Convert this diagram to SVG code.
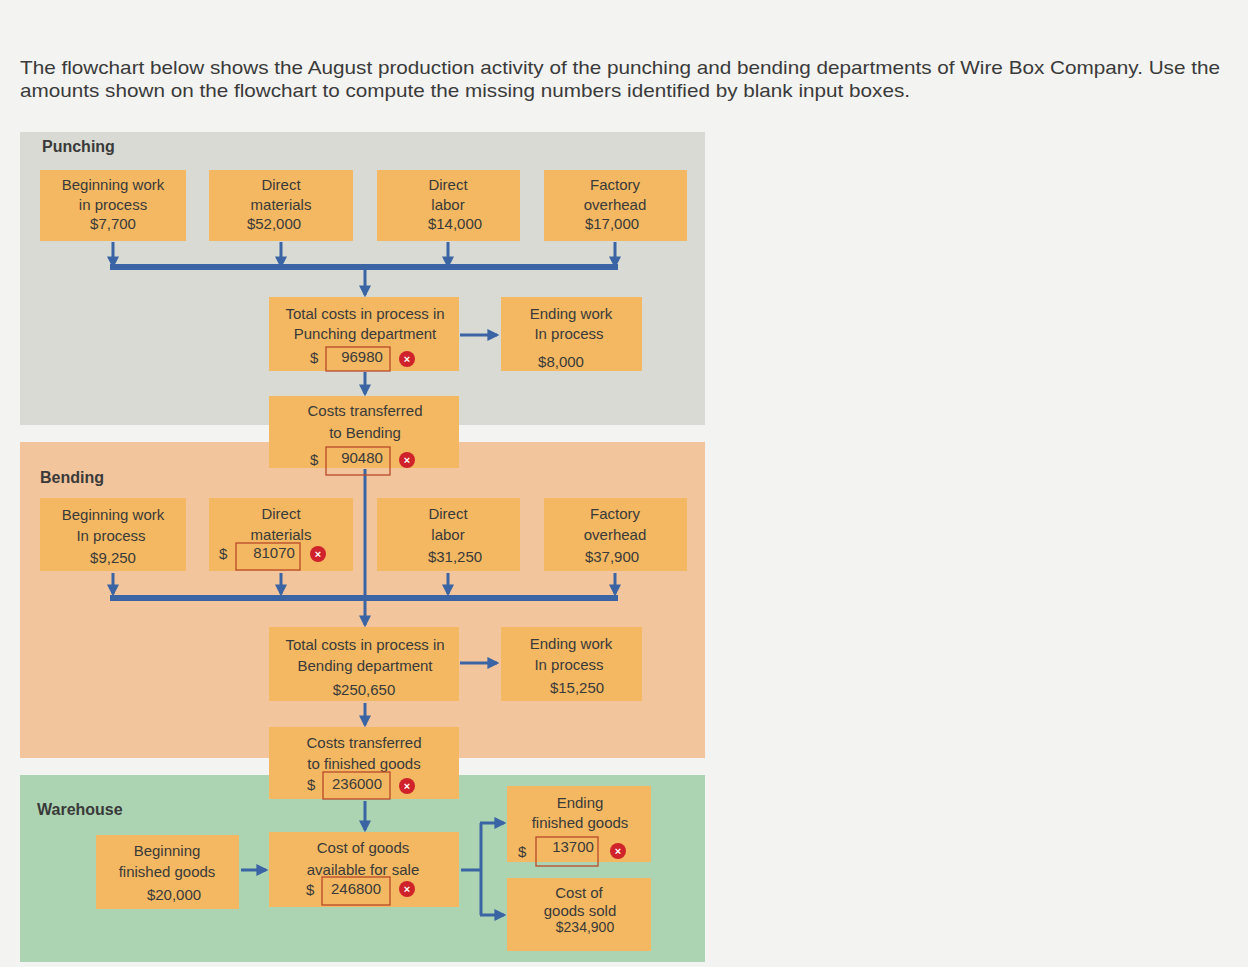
<svg xmlns="http://www.w3.org/2000/svg" width="1248" height="967" viewBox="0 0 1248 967">
<defs>
<marker id="ah" viewBox="0 0 10 10" refX="8" refY="5" markerWidth="4" markerHeight="4" orient="auto"><path d="M0,0L10,5L0,10z" fill="#3a64a4"/></marker>
</defs>
<style>
text{font-family:"Liberation Sans",Arial,sans-serif;fill:#3a3a3a}
.t{font-size:15px;text-anchor:middle}
.h{font-size:16px;font-weight:bold}
.b{fill:#f3b861}
.in{fill:none;stroke:#b84a2a;stroke-width:1.3}
.c{stroke:#3a64a4;stroke-width:3;fill:none}
.a{stroke:#3a64a4;stroke-width:3;fill:none;marker-end:url(#ah)}
.bar{stroke:#3a64a4;stroke-width:6;fill:none}
.x{fill:#d0222a}
</style>
<rect width="1248" height="967" fill="#f3f3f1"/>
<text x="20" y="74" style="font-size:19px" textLength="1200" lengthAdjust="spacingAndGlyphs">The flowchart below shows the August production activity of the punching and bending departments of Wire Box Company. Use the</text>
<text x="20" y="97" style="font-size:19px" textLength="890" lengthAdjust="spacingAndGlyphs">amounts shown on the flowchart to compute the missing numbers identified by blank input boxes.</text>
<rect x="20" y="132" width="685" height="293" fill="#d8dad3"/>
<rect x="20" y="442" width="685" height="316" fill="#f2c59d"/>
<rect x="20" y="775" width="685" height="187" fill="#acd4b2"/>
<text x="42" y="152" class="h">Punching</text>
<text x="40" y="483" class="h">Bending</text>
<text x="37" y="815" class="h">Warehouse</text>
<g id="connectors">
<path class="a" d="M113,242V266"/><path class="a" d="M281,242V266"/><path class="a" d="M448,242V266"/><path class="a" d="M615,242V266"/>
<path class="bar" d="M110,267H618"/>
<path class="a" d="M365,268V295"/>
<path class="a" d="M460,335H497"/>
<path class="a" d="M365,372V394"/>
<path class="c" d="M365,469V597"/>
<path class="a" d="M113,573V594"/><path class="a" d="M281,573V594"/><path class="a" d="M448,573V594"/><path class="a" d="M615,573V594"/>
<path class="bar" d="M110,598H618"/>
<path class="a" d="M365,600V625"/>
<path class="a" d="M460,663H497"/>
<path class="a" d="M365,703V725"/>
<path class="a" d="M365,801V830"/>
<path class="a" d="M241,870H266"/>
<path class="c" d="M461,870H481M481,823V915"/>
<path class="a" d="M480,823H504"/><path class="a" d="M480,915H504"/>
</g>
<g id="p_bwip"><rect class="b" x="40" y="170" width="146" height="71"/><text class="t" x="113" y="190">Beginning work</text><text class="t" x="113" y="210">in process</text><text class="t" x="113" y="229">$7,700</text></g>
<g id="p_dm"><rect class="b" x="209" y="170" width="144" height="71"/><text class="t" x="281" y="190">Direct</text><text class="t" x="281" y="210">materials</text><text class="t" x="274" y="229">$52,000</text></g>
<g id="p_dl"><rect class="b" x="377" y="170" width="143" height="71"/><text class="t" x="448" y="190">Direct</text><text class="t" x="448" y="210">labor</text><text class="t" x="455" y="229">$14,000</text></g>
<g id="p_fo"><rect class="b" x="544" y="170" width="143" height="71"/><text class="t" x="615" y="190">Factory</text><text class="t" x="615" y="210">overhead</text><text class="t" x="612" y="229">$17,000</text></g>
<g id="p_total"><rect class="b" x="269" y="297" width="190" height="74"/><text class="t" x="365" y="319">Total costs in process in</text><text class="t" x="365" y="339">Punching department</text><text x="310" y="363" style="font-size:15px">$</text><rect class="in" x="326" y="347" width="64" height="24"/><text class="t" x="362" y="362">96980</text><circle class="x" cx="407" cy="359" r="8"/><text x="407" y="363" style="font-size:11px;fill:#fff;text-anchor:middle;font-weight:bold">×</text></g>
<g id="p_ewip"><rect class="b" x="501" y="297" width="141" height="74"/><text class="t" x="571" y="319">Ending work</text><text class="t" x="569" y="339">In process</text><text class="t" x="561" y="367">$8,000</text></g>
<g id="p_trans"><rect class="b" x="269" y="396" width="190" height="72"/><text class="t" x="365" y="416">Costs transferred</text><text class="t" x="365" y="438">to Bending</text><text x="310" y="465" style="font-size:15px">$</text><rect class="in" x="326" y="447" width="64" height="28"/><text class="t" x="362" y="463">90480</text><circle class="x" cx="407" cy="460" r="8"/><text x="407" y="464" style="font-size:11px;fill:#fff;text-anchor:middle;font-weight:bold">×</text></g>
<g id="b_bwip"><rect class="b" x="40" y="498" width="146" height="73"/><text class="t" x="113" y="520">Beginning work</text><text class="t" x="111" y="541">In process</text><text class="t" x="113" y="563">$9,250</text></g>
<g id="b_dm"><rect class="b" x="209" y="498" width="144" height="73"/><text class="t" x="281" y="519">Direct</text><text class="t" x="281" y="540">materials</text><text x="219" y="559" style="font-size:15px">$</text><rect class="in" x="236" y="543" width="64" height="27"/><text class="t" x="274" y="558">81070</text><circle class="x" cx="318" cy="554" r="8"/><text x="318" y="558" style="font-size:11px;fill:#fff;text-anchor:middle;font-weight:bold">×</text></g>
<g id="b_dl"><rect class="b" x="377" y="498" width="143" height="73"/><text class="t" x="448" y="519">Direct</text><text class="t" x="448" y="540">labor</text><text class="t" x="455" y="562">$31,250</text></g>
<g id="b_fo"><rect class="b" x="544" y="498" width="143" height="73"/><text class="t" x="615" y="519">Factory</text><text class="t" x="615" y="540">overhead</text><text class="t" x="612" y="562">$37,900</text></g>
<g id="b_total"><rect class="b" x="269" y="627" width="190" height="74"/><text class="t" x="365" y="650">Total costs in process in</text><text class="t" x="365" y="671">Bending department</text><text class="t" x="364" y="695">$250,650</text></g>
<g id="b_ewip"><rect class="b" x="501" y="627" width="141" height="74"/><text class="t" x="571" y="649">Ending work</text><text class="t" x="569" y="670">In process</text><text class="t" x="577" y="693">$15,250</text></g>
<g id="b_trans"><rect class="b" x="269" y="727" width="190" height="72"/><text class="t" x="364" y="748">Costs transferred</text><text class="t" x="364" y="769">to finished goods</text><text x="307" y="790" style="font-size:15px">$</text><rect class="in" x="323" y="772" width="67" height="27"/><text class="t" x="357" y="789">236000</text><circle class="x" cx="407" cy="786" r="8"/><text x="407" y="790" style="font-size:11px;fill:#fff;text-anchor:middle;font-weight:bold">×</text></g>
<g id="w_bfg"><rect class="b" x="96" y="835" width="143" height="74"/><text class="t" x="167" y="856">Beginning</text><text class="t" x="167" y="877">finished goods</text><text class="t" x="174" y="900">$20,000</text></g>
<g id="w_coga"><rect class="b" x="269" y="832" width="190" height="75"/><text class="t" x="363" y="853">Cost of goods</text><text class="t" x="363" y="875">available for sale</text><text x="306" y="895" style="font-size:15px">$</text><rect class="in" x="322" y="877" width="68" height="28"/><text class="t" x="356" y="894">246800</text><circle class="x" cx="407" cy="889" r="8"/><text x="407" y="893" style="font-size:11px;fill:#fff;text-anchor:middle;font-weight:bold">×</text></g>
<g id="w_efg"><rect class="b" x="507" y="786" width="144" height="76"/><text class="t" x="580" y="808">Ending</text><text class="t" x="580" y="828">finished goods</text><text x="518" y="857" style="font-size:15px">$</text><rect class="in" x="536" y="837" width="62" height="29"/><text class="t" x="573" y="852">13700</text><circle class="x" cx="618" cy="851" r="8"/><text x="618" y="855" style="font-size:11px;fill:#fff;text-anchor:middle;font-weight:bold">×</text></g>
<g id="w_cogs"><rect class="b" x="507" y="878" width="144" height="73"/><text class="t" x="579" y="898">Cost of</text><text class="t" x="580" y="916">goods sold</text><text class="t" x="585" y="932" style="font-size:14px">$234,900</text></g>
</svg>
